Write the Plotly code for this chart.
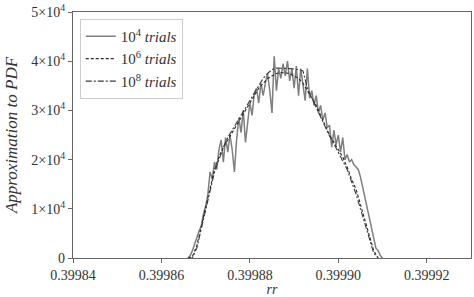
import plotly.graph_objects as go

# ---- data ----
x_1e4 = [0.3998660, 0.3998665, 0.3998670, 0.3998675, 0.3998680, 0.3998685, 0.3998690, 0.3998695,
         0.3998700, 0.3998705, 0.3998710, 0.3998715, 0.3998720, 0.3998725, 0.3998730, 0.3998735,
         0.3998740, 0.3998745, 0.3998750, 0.3998755, 0.3998760, 0.3998765, 0.3998770, 0.3998775,
         0.3998780, 0.3998785, 0.3998790, 0.3998795, 0.3998800, 0.3998805, 0.3998810, 0.3998815,
         0.3998820, 0.3998825, 0.3998830, 0.3998835, 0.3998840, 0.3998845, 0.3998850, 0.3998855,
         0.3998860, 0.3998865, 0.3998870, 0.3998875, 0.3998880, 0.3998885, 0.3998890, 0.3998895,
         0.3998900, 0.3998905, 0.3998910, 0.3998915, 0.3998920, 0.3998925, 0.3998930, 0.3998935,
         0.3998940, 0.3998945, 0.3998950, 0.3998955, 0.3998960, 0.3998965, 0.3998970, 0.3998975,
         0.3998980, 0.3998985, 0.3998990, 0.3998995, 0.3999000, 0.3999005, 0.3999010, 0.3999015,
         0.3999020, 0.3999025, 0.3999030, 0.3999035, 0.3999040, 0.3999045, 0.3999050, 0.3999055,
         0.3999060, 0.3999065, 0.3999070, 0.3999075, 0.3999080, 0.3999085, 0.3999090, 0.3999095,
         0.3999100]
y_1e4 = [0, 500, 1500, 3000, 4000, 5500, 6500, 9000,
         10500, 13000, 17500, 16000, 19500, 18000, 22000, 24000,
         19500, 24500, 21500, 25000, 22000, 17500, 24000, 28500,
         25500, 30000, 23500, 27000, 31500, 29000, 33500, 34500,
         31500, 35500, 33000, 35500, 37500, 34000, 29500, 41000,
         34000, 38500, 36500, 39500, 37000, 40000, 36000, 38500,
         34500, 39000, 33000, 38500, 35500, 32000, 38500, 32500,
         34000, 31000, 33000, 29500, 31000, 28000, 29500, 26500,
         27000, 22500, 26000, 23000, 25000, 21500, 24500, 20000,
         21000, 19500, 20000, 19000, 18500, 18000, 16500, 14500,
         12000, 10000, 8500, 6000, 4000, 2000, 1500, 500,
         0]

x_smooth = [0.399866, 0.399867, 0.399868, 0.399869, 0.399870, 0.399871, 0.399872, 0.399873,
            0.399874, 0.399875, 0.399876, 0.399877, 0.399878, 0.399879, 0.399880, 0.399881,
            0.399882, 0.399883, 0.399884, 0.399885, 0.399886, 0.399887, 0.399888, 0.399889,
            0.399890, 0.399891, 0.399892, 0.399893, 0.399894, 0.399895, 0.399896, 0.399897,
            0.399898, 0.399899, 0.399900, 0.399901, 0.399902, 0.399903, 0.399904, 0.399905,
            0.399906, 0.399907, 0.399908, 0.399909]
y_1e6 = [0, 300, 2500, 6500, 10500, 14500, 18000, 20500,
         22500, 24000, 25500, 27000, 28500, 30000, 31500, 33000,
         34500, 35500, 36500, 37000, 37500, 37700, 37600, 37500,
         37000, 36500, 35500, 34000, 32500, 31000, 29000, 27000,
         25000, 23500, 22000, 20500, 18500, 16000, 14000, 11000,
         8000, 4500, 1500, 0]
y_1e8 = [0, 0, 2000, 6000, 10000, 14000, 17500, 20000,
         22500, 24500, 26000, 27500, 29000, 30500, 32000, 33500,
         35000, 36500, 37500, 38300, 38600, 38600, 38500, 38500,
         38400, 38300, 38000, 34500, 32500, 30500, 28500, 26500,
         24800, 23200, 21500, 20000, 18000, 15500, 13000, 10000,
         7000, 4000, 1000, 0]

x_ticks = [0.39984, 0.39986, 0.39988, 0.39990, 0.39992]
x_ticktext = ["0.39984", "0.39986", "0.39988", "0.39990", "0.39992"]
y_ticks = [0, 10000, 20000, 30000, 40000, 50000]
y_ticktext = ["0", "1×10<sup>4</sup>", "2×10<sup>4</sup>", "3×10<sup>4</sup>",
              "4×10<sup>4</sup>", "5×10<sup>4</sup>"]
names = ["10<sup>4</sup> <i>trials</i>", "10<sup>6</sup> <i>trials</i>", "10<sup>8</sup> <i>trials</i>"]

FONT = "Liberation Serif"

fig = go.Figure()
fig.add_trace(go.Scatter(x=x_1e4, y=y_1e4, mode="lines", name=names[0],
                         line=dict(color="#7f7f7f", width=1.5)))
fig.add_trace(go.Scatter(x=x_smooth, y=y_1e6, mode="lines", name=names[1],
                         line=dict(color="#2a2a2a", width=1.1, dash="3px,2px")))
fig.add_trace(go.Scatter(x=x_smooth, y=y_1e8, mode="lines", name=names[2],
                         line=dict(color="#3a3a3a", width=1.1, dash="6px,2px,2px,2px")))

axis_common = dict(showline=True, mirror=True, linecolor="#666666", linewidth=1.2,
                   ticks="outside", ticklen=4, tickcolor="#666666", showgrid=False,
                   zeroline=False, ticklabeloverflow="allow",
                   tickfont=dict(family=FONT, size=14, color="#333333"))

fig.update_layout(
    width=474, height=297,
    margin=dict(l=73, r=2, t=6, b=37),
    paper_bgcolor="white", plot_bgcolor="white",
    font=dict(family=FONT, size=14, color="#333333"),
    xaxis=dict(range=[0.39984, 0.39993], tickvals=x_ticks, ticktext=x_ticktext,
               title=dict(text="<i>rr</i>", font=dict(family=FONT, size=14), standoff=2),
               **axis_common),
    yaxis=dict(range=[0, 50000], tickvals=y_ticks, ticktext=y_ticktext,
               title=dict(text="<i>Approximation to PDF</i>", font=dict(family=FONT, size=17), standoff=9),
               **axis_common),
    legend=dict(x=0.017, y=0.972, xanchor="left", yanchor="top",
                bgcolor="white", bordercolor="#cccccc", borderwidth=1,
                font=dict(family=FONT, size=15, color="#333333"),
                itemwidth=30, tracegroupgap=0),
    showlegend=True,
)

fig.write_html("out.html")
